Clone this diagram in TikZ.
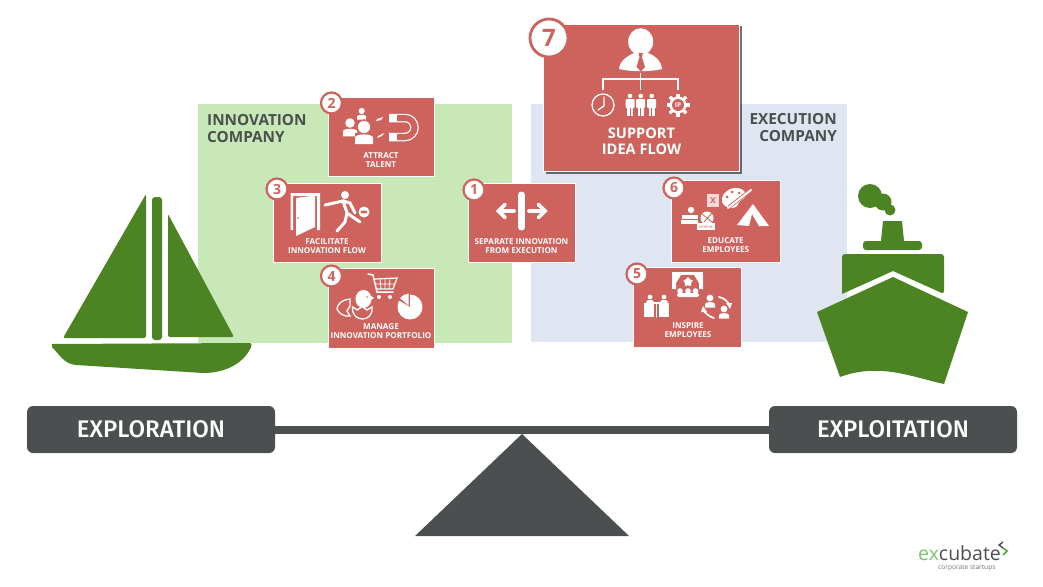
\documentclass[tikz,border=0pt]{standalone}
\usepackage{fontspec}
\setmainfont{Open Sans}
\newfontfamily\beamfont{Fira Sans Medium}
\usetikzlibrary{shadows, shapes.geometric}
\definecolor{cardred}{HTML}{CD635C}
\definecolor{leafgreen}{HTML}{4C8423}
\definecolor{slategrey}{HTML}{4B4F4F}
\definecolor{innogreen}{HTML}{C9E8B8}
\definecolor{execblue}{HTML}{DFE6F2}
\tikzstyle{card} = [rectangle, fill=cardred, draw=white, line width=0.8pt, inner sep=0pt]
\tikzstyle{bigcard} = [card, drop shadow={shadow xshift=2.5pt,shadow yshift=-2.5pt,opacity=0.55,fill=black}]
\tikzstyle{badge} = [circle, fill=white, draw=cardred, line width=2.2pt, minimum size=21pt, inner sep=0pt, text=cardred, font=\fontsize{14}{14}\selectfont\bfseries]
\tikzstyle{bigbadge} = [badge, line width=2.8pt, minimum size=38pt, font=\fontsize{24}{24}\selectfont\bfseries]
\tikzstyle{cardtext} = [text=white, align=center, inner sep=0pt, font=\fontsize{8.1}{9}\selectfont\bfseries]
\tikzstyle{bigtext} = [text=white, align=center, inner sep=0pt, font=\fontsize{14.6}{16}\selectfont\bfseries]
\tikzstyle{company} = [text=slategrey, inner sep=0pt, font=\fontsize{15.3}{17}\selectfont\bfseries]
\tikzstyle{pan} = [rectangle, rounded corners=6pt, fill=slategrey, text=white, minimum width=248pt, minimum height=47pt, inner sep=0pt, font=\fontsize{24}{24}\selectfont\beamfont]
\tikzstyle{beam} = [draw=slategrey, line width=8pt]
\tikzstyle{icon} = [fill=white]
\tikzstyle{iconline} = [draw=white, line width=1.3pt, line cap=round]
\tikzstyle{cut} = [fill=cardred]
\tikzstyle{cutline} = [draw=cardred, line width=0.8pt]
\newcommand{\bust}[3]{%
  \fill[icon] (#1,#2) circle (#3*0.68);
  \fill[icon] (#1-#3,#2+#3*1.9) -- (#1-#3,#2+#3*1.2) .. controls (#1-#3,#2+#3*0.7) and (#1+#3,#2+#3*0.7) .. (#1+#3,#2+#3*1.2) -- (#1+#3,#2+#3*1.9) -- cycle;}
\newcommand{\miniman}[2]{%
  \fill[icon] (#1,#2) circle (2.3);
  \fill[icon,rounded corners=1pt] (#1-4.5,#2+3) rectangle (#1+4.5,#2+12);
  \fill[icon] (#1-3,#2+12) rectangle (#1+3,#2+20);
  \draw[cutline] (#1,#2+12) -- (#1,#2+20);}
\begin{document}
\begin{tikzpicture}[x=1pt,y=-1pt]
    \useasboundingbox (0,0) rectangle (1043,586);

    % company areas
    \fill[innogreen] (198,104) rectangle (512,343);
    \fill[execblue] (531,104) rectangle (847,342);
    \node at (207,128.5) [company,anchor=west,align=left] (innovation) {INNOVATION\\COMPANY};
    \node at (837,128) [company,anchor=east,align=right] (execution) {EXECUTION\\COMPANY};

    % sailboat
    \fill[leafgreen,rounded corners=2pt] (146,194) -- (146,338) -- (63,338) -- cycle;
    \fill[leafgreen,rounded corners=3pt] (152,340) -- (152,197) -- (162,197) -- (162,340) -- cycle;
    \fill[leafgreen,rounded corners=2pt] (168,214) -- (234,337) -- (168,337) -- cycle;
    \fill[leafgreen] (52,344) -- (250,343) .. controls (253,344) and (251,348) .. (249,351)
        .. controls (240,366) and (222,373) .. (203,373) -- (76,365)
        .. controls (64,364) and (60,355) .. (52,347) -- cycle;

    % ship
    \fill[leafgreen] (870,196) circle (12);
    \fill[leafgreen] (883,202) circle (8.5);
    \fill[leafgreen] (890,210) circle (5.5);
    \fill[leafgreen] (883,221) -- (902,221) -- (904,241) -- (881,241) -- cycle;
    \fill[leafgreen,rounded corners=3pt] (863,250) -- (863,241) -- (922,241) -- (922,250) -- cycle;
    \fill[leafgreen,rounded corners=3pt] (842,294) -- (842,254) -- (944,254) -- (944,294) [sharp corners] -- (893,271) -- cycle;
    \fill[leafgreen] (893,277) -- (968,312) -- (944,384) .. controls (915,378) and (880,362) .. (840,377) -- (817,312) -- cycle;

    % balance
    \node at (151,429.5) [pan] (explore) {EXPLORATION};
    \node at (893,429.5) [pan] (exploit) {EXPLOITATION};
    \draw[beam] (explore) -- (exploit);
    \fill[slategrey] (522,434) -- (629,536) -- (415,536) -- cycle;

    % cards
    \node at (641.7,97.5) [bigcard,minimum width=196pt,minimum height=147pt] (card7) {};
    \node at (381,136.5) [card,minimum width=106pt,minimum height=79pt] (card2) {};
    \node at (327,222.5) [card,minimum width=108pt,minimum height=79pt] (card3) {};
    \node at (381,308) [card,minimum width=106pt,minimum height=80pt] (card4) {};
    \node at (521.5,222.5) [card,minimum width=107pt,minimum height=79pt] (card1) {};
    \node at (725.5,221) [card,minimum width=109pt,minimum height=82pt] (card6) {};
    \node at (687,307) [card,minimum width=108pt,minimum height=80pt] (card5) {};

    \node at (641.5,141) [bigtext] (text7) {SUPPORT\\IDEA FLOW};
    \node at (381,160.5) [cardtext] (text2) {ATTRACT\\TALENT};
    \node at (327,246) [cardtext] (text3) {FACILITATE\\INNOVATION FLOW};
    \node at (381,331.5) [cardtext] (text4) {MANAGE\\INNOVATION PORTFOLIO};
    \node at (521.5,246.5) [cardtext] (text1) {SEPARATE INNOVATION\\FROM EXECUTION};
    \node at (725.7,245.5) [cardtext] (text6) {EDUCATE\\EMPLOYEES};
    \node at (688,330.5) [cardtext] (text5) {INSPIRE\\EMPLOYEES};

    \node at (549,38) [bigbadge] (badge7) {7};
    \node at (331.5,103) [badge] (badge2) {2};
    \node at (277,189) [badge] (badge3) {3};
    \node at (331.5,276) [badge] (badge4) {4};
    \node at (474,190) [badge] (badge1) {1};
    \node at (674,188) [badge] (badge6) {6};
    \node at (637,274) [badge] (badge5) {5};

    % icon 7
    \fill[icon] (640.7,41.7) ellipse [x radius=12.5,y radius=13.5];
    \fill[icon] (619,69) .. controls (620,60) and (628,56) .. (634,53) -- (648,53) .. controls (655,56) and (661,60) .. (662,69) .. controls (650,72) and (632,72) .. cycle;
    \fill[cut] (638.5,53) -- (643,53) -- (641.8,57) -- (645,67) -- (640.7,71.5) -- (636.5,67) -- (639.5,57) -- cycle;
    \draw[iconline,line cap=butt] (640.7,73) -- (640.7,90);
    \draw[iconline,line cap=butt] (603,90) -- (603,79) -- (678,79) -- (678,90);
    \draw[iconline] (603,105) circle (11);
    \draw[iconline] (604,97) -- (604,106) -- (598,110);
    \miniman{630}{96}
    \miniman{640.7}{96}
    \miniman{651.7}{96}
    \foreach \a in {0,45,...,315}
        \draw[iconline,line width=3.2pt,line cap=butt] (678,105) ++(\a:7) -- ++(\a:4.5);
    \fill[icon] (678,105) circle (8.5);
    \fill[cut] (678,105) circle (6);
    \node at (678,105) [text=white,inner sep=0pt,font=\fontsize{6.5}{6.5}\selectfont\bfseries] (iptext) {IP};

    % icon 2
    \bust{350}{123}{7}
    \bust{361.7}{111}{4.5}
    \fill[cut] (364,127) circle (7.6);
    \fill[cut] (354.5,133) rectangle (374,145);
    \bust{364}{127}{9}
    \fill[icon] (377,119) -- (383,117) -- (381,120) -- (376,121) -- cycle;
    \fill[icon] (378,136) -- (384,133) -- (382,136) -- (377,138) -- cycle;
    \draw[white,line width=8.5pt] (389,118) -- (405,118) arc (-90:90:9.5) -- (389,137);
    \draw[cardred,line width=6pt] (397,118) -- (405,118) arc (-90:90:9.5) -- (397,137);

    % icon 3
    \fill[icon] (290.5,193) -- (320,193) -- (320,230) -- (317,230) -- (317,196) -- (293,196) -- (293,230) -- (290.5,230) -- cycle;
    \fill[icon] (296,198) -- (315,195.5) -- (315,227) -- (296,236) -- cycle;
    \fill[cut] (298,218) circle (0.8);
    \fill[icon] (345,195) circle (4);
    \draw[iconline,line width=3pt] (325,205) -- (343,201) -- (347,213) -- (360,222);
    \draw[iconline,line width=3pt] (343,201) -- (350,203) -- (355,213);
    \draw[iconline,line width=3pt] (347,213) -- (345,222) -- (337,231);
    \fill[icon] (364,212) circle (5.5);
    \fill[cut] (364,212) ellipse [x radius=3.5,y radius=1.5];

    % icon 4
    \draw[iconline,line width=1.5pt] (368,274) -- (373,275) -- (377,292) -- (393,292);
    \draw[iconline,line width=1.2pt] (375,279) -- (397,278) -- (393,289) -- (377,289);
    \draw[iconline,line width=0.8pt,line cap=butt] (380,279) -- (381,289) (385,279) -- (385,289) (390,279) -- (389,289) (376,284) -- (395,284);
    \fill[icon] (379,297) circle (2);
    \fill[icon] (390,297) circle (2);
    \draw[iconline] (350,299) .. controls (340,300) and (337,306) .. (337,309) .. controls (339,314) and (345,317) .. (350,316) -- (347,311) -- (350,306) -- cycle;
    \fill[icon] (363.5,299) ellipse [x radius=8,y radius=9];
    \fill[cut] (367,297) circle (0.9);
    \fill[icon] (371,296) -- (374,298) -- (371,300) -- cycle;
    \draw[iconline,fill=cardred] (352.5,307) -- (357.5,310) -- (362,306.5) -- (367,310) -- (372,307) .. controls (374,323) and (351,323) .. (352.5,307) -- cycle;
    \fill[icon] (410,307) -- (410,294.5) arc (270:570:12.5) -- cycle;
    \fill[icon] (408.5,305.5) -- (408.5,293.5) arc (265:218:12) -- cycle;

    % icon 1
    \draw[iconline,line width=7pt] (521.5,195) -- (521.5,227);
    \draw[iconline,line width=3.6pt] (498.5,211) -- (514,211);
    \draw[iconline,line width=3.6pt] (505,204.5) -- (498.5,211) -- (505,217.5);
    \draw[iconline,line width=3.6pt] (529,211) -- (545,211);
    \draw[iconline,line width=3.6pt] (538.5,204.5) -- (545,211) -- (538.5,217.5);

    % icon 6
    \fill[icon] (722,202) .. controls (720,190) and (738,183) .. (745,192) .. controls (750,198) and (738,200) .. (738,204) .. controls (738,209) and (725,210) .. (722,202) -- cycle;
    \fill[cut] (732,192) circle (1.5);
    \fill[cut] (739,193) circle (1.5);
    \fill[cut] (727,197) circle (1.5);
    \draw[cardred,line width=3.6pt] (729,207) -- (751,190);
    \draw[iconline,line width=2pt] (728,208) -- (751,190);
    \fill[white!75!cardred] (707,194) rectangle (719,207);
    \node at (713,200.5) [text=cardred,inner sep=0pt,font=\fontsize{8}{8}\selectfont\bfseries] (xtext) {X};
    \fill[icon] (753,204) -- (769,226) -- (759,226) -- (752,214) -- (749,226) -- (737,225) -- cycle;
    \fill[icon] (682,215) rectangle (698,219);
    \fill[icon] (681,220) rectangle (698,224);
    \fill[icon] (691,210) circle (3.2);
    \fill[icon] (707,218) circle (6.5);
    \draw[cutline] (702,214) -- (712,222) (712,213) -- (704,222);
    \fill[icon] (697,223) rectangle (715,230);
    \node at (706,226.7) [text=cardred,inner sep=0pt,font=\fontsize{4.5}{4.5}\selectfont] (onlinetext) {online};

    % icon 5
    \fill[icon] (672,272) rectangle (703,275);
    \fill[icon] (672,275) -- (681,275) -- (676,283) -- (676,289) -- (672,289) -- cycle;
    \fill[icon] (703,275) -- (694,275) -- (699,283) -- (699,289) -- (703,289) -- cycle;
    \node at (688,282) [star,star points=5,fill=white,minimum size=10pt,inner sep=0pt] (starmark) {};
    \fill[icon] (680,291) circle (2.8);
    \fill[icon] (688,291) circle (2.8);
    \fill[icon] (695.5,291) circle (2.8);
    \fill[icon,rounded corners=1.5pt] (677,293) rectangle (699,297);
    \bust{650}{297}{3.6}
    \bust{664}{297}{3.6}
    \fill[icon] (644,303) rectangle (654,317);
    \fill[icon] (659,303) rectangle (669,317);
    \draw[iconline] (652,303) -- (661,303);
    \draw[iconline] (656.5,304) -- (656.5,317);
    \bust{710}{298}{5}
    \bust{724}{309}{5}
    \draw[iconline,line width=1.7pt] (719,297) .. controls (724,298) and (727,301) .. (729,304);
    \fill[icon] (732,303) -- (726,303) -- (730,309) -- cycle;
    \draw[iconline,line width=1.7pt] (714,318) .. controls (710,317) and (706,314) .. (704,311);
    \fill[icon] (701,312) -- (707,312) -- (703,306) -- cycle;

    % logo
    \node at (918,553) [anchor=west,inner sep=0pt,text=slategrey,font=\fontsize{19.5}{19.5}\selectfont] (logo) {\textcolor[HTML]{7AC56A}{ex}cubate};
    \node at (938,568) [anchor=west,inner sep=0pt,text=slategrey!80,font=\fontsize{6.6}{7}\selectfont] (claim) {corporate startups};
    \draw[slategrey,line width=1.4pt] (1003,542) -- (999,545) -- (1003,548);
    \draw[leafgreen!70!green,line width=1.4pt] (1003,548) -- (1007,551) -- (1003,555);
\end{tikzpicture}
\end{document}
